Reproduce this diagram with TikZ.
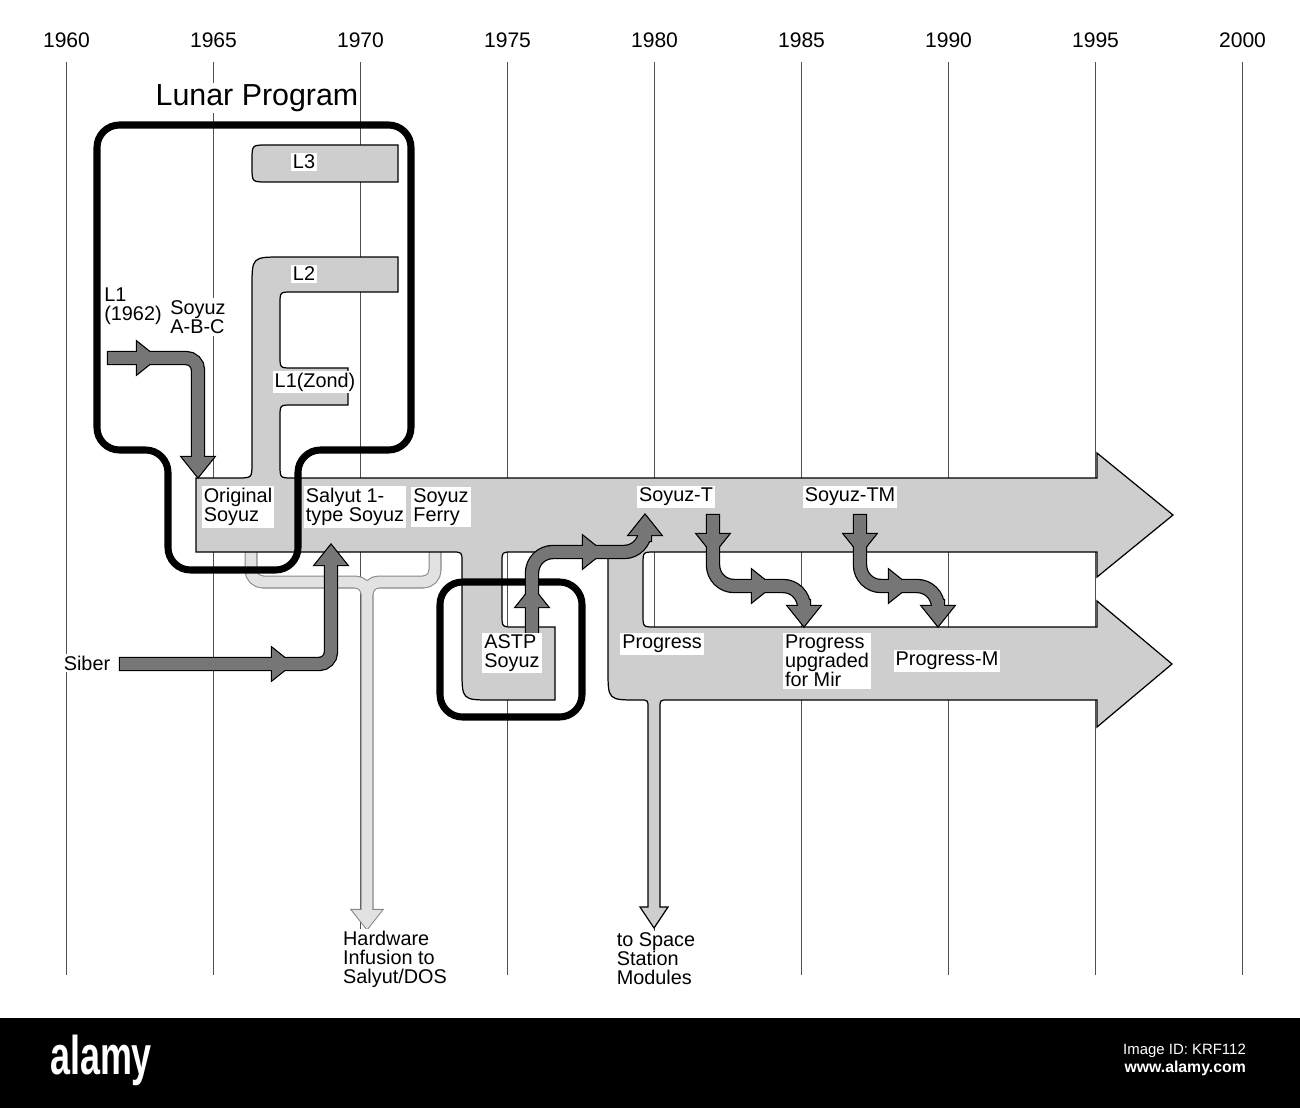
\documentclass[tikz,border=0pt]{standalone}
\usepackage{fontspec}
\setmainfont{Liberation Sans}

\definecolor{bandgray}{RGB}{206,206,206}
\definecolor{arrowgray}{RGB}{118,118,118}
\definecolor{feedgray}{RGB}{226,226,226}
\definecolor{feededge}{RGB}{135,135,135}
\definecolor{gridgray}{RGB}{80,80,80}

\tikzset{
  yearlabel/.style={font=\fontsize{12}{12}\selectfont, inner sep=1pt},
  tag/.style={fill=white, inner sep=0.04cm, align=left, font=\fontsize{11.3}{10.8}\selectfont},
  gridline/.style={draw=gridgray, line width=1.1pt},
  bandshape/.style={fill=bandgray, draw=black, line width=0.7pt},
  frame/.style={draw=black, line width=4pt, rounded corners=0.45cm},
  darkedge/.style={draw=black, line width=8.2pt, line cap=rect},
  darkbody/.style={draw=arrowgray, line width=6.8pt, line cap=rect},
  feedrim/.style={draw=feededge, line width=7.4pt},
  feedline/.style={draw=feedgray, line width=6.2pt},
}

\begin{document}
\begin{tikzpicture}[x=0.02cm, y=-0.02cm]
    \useasboundingbox (0,0) rectangle (1300,1108);

    % -------------------------------------------------------------
    % TIME AXIS
    % -------------------------------------------------------------
    \foreach \yr [count=\i from 0] in {1960,1965,...,2000} {
        \node[yearlabel] (yr\yr) at ({66.5+147*\i}, 40) {\yr};
        \draw[gridline] ({66.5+147*\i}, 62) -- ({66.5+147*\i}, 975);
    }

    % -------------------------------------------------------------
    % LIGHT FEED ARROWS (hardware infusion)
    % -------------------------------------------------------------
    \coordinate (feedA) at (251,545);
    \coordinate (feedB) at (435,545);
    \coordinate (feedjoin) at (367,582);
    \coordinate (feedlow) at (367,620);
    \coordinate (hwend) at (367,910);

    \filldraw[feededge, line width=1.2pt, shift={(hwend)}, rotate=-90] (0,-15) -- (19,0) -- (0,15) -- cycle;
    \draw[feedrim, rounded corners=0.24cm] (feedA) |- (feedjoin) -- (hwend) (feedB) |- (feedjoin) -- (feedlow);
    \draw[feedline, rounded corners=0.24cm] (feedA) |- (feedjoin) -- (hwend) (feedB) |- (feedjoin) -- (feedlow);
    \fill[feedgray, shift={(hwend)}, rotate=-90] (0,-15) -- (19,0) -- (0,15) -- cycle;

    % -------------------------------------------------------------
    % MAIN SOYUZ / PROGRESS BAND
    % -------------------------------------------------------------
    \filldraw[bandshape]
        (196,478) -- (237,478) .. controls (252,478) .. (252,463)
        -- (252,287) .. controls (252,257) .. (282,257)
        -- (398,257) -- (398,292)
        -- (292,292) .. controls (280,292) .. (280,304)
        -- (280,356) .. controls (280,368) .. (292,368)
        -- (348,368) -- (348,405)
        -- (292,405) .. controls (280,405) .. (280,417)
        -- (280,465) .. controls (280,478) .. (293,478)
        -- (1097,478) -- (1097,453) -- (1173,515) -- (1097,577) -- (1097,552)
        -- (655,552) .. controls (643,552) .. (643,564)
        -- (643,615) .. controls (643,627) .. (655,627)
        -- (1097,627) -- (1097,601) -- (1172,664) -- (1097,727) -- (1097,700)
        -- (668,700) .. controls (660,700) .. (660,708)
        -- (660,907) -- (668,907) -- (654,928) -- (640,907) -- (648,907)
        -- (648,708) .. controls (648,700) .. (640,700)
        -- (638,700) .. controls (608,700) .. (608,670)
        -- (608,562) .. controls (608,552) .. (598,552)
        -- (512,552) .. controls (502,552) .. (502,562)
        -- (502,615) .. controls (502,627) .. (514,627)
        -- (555,627) -- (555,700)
        -- (492,700) .. controls (462,700) .. (462,670)
        -- (462,562) .. controls (462,552) .. (452,552)
        -- (196,552) -- cycle;

    % L3 bar
    \filldraw[bandshape] (398,145) -- (267,145) .. controls (252,145) .. (252,160)
        -- (252,167) .. controls (252,182) .. (267,182) -- (398,182) -- cycle;

    % -------------------------------------------------------------
    % FRAMES
    % -------------------------------------------------------------
    \draw[frame] (97,125) -- (411,125) -- (411,450) -- (298,450) -- (298,570)
        -- (168,570) -- (168,450) -- (97,450) -- cycle;
    \draw[frame] (440,582) rectangle (582,717);

    % -------------------------------------------------------------
    % DARK ARROWS
    % -------------------------------------------------------------
    \coordinate (l1start) at (114,358);
    \coordinate (l1end) at (198,457);
    \coordinate (siberstart) at (126,664);
    \coordinate (siberend) at (331,565);
    \coordinate (astpout) at (532,633);
    \coordinate (astpbend) at (645,552);
    \coordinate (tin) at (645,535);
    \coordinate (tout) at (713,521);
    \coordinate (tbend) at (804,586);
    \coordinate (pupin) at (804,606);
    \coordinate (tmout) at (860,521);
    \coordinate (tmbend) at (938,586);
    \coordinate (pmin) at (938,606);

    \foreach \hx/\hy/\ha in {137/358/0, 198/457/-90, 272/664/0, 331/565/90,
                             532/607/90, 583/552/0, 645/535/90,
                             713/534/-90, 752/586/0, 804/606/-90,
                             860/534/-90, 889/586/0, 938/606/-90}
        \filldraw[black, line width=1.4pt, shift={(\hx,\hy)}, rotate=\ha] (0,-16) -- (20,0) -- (0,16) -- cycle;

    \draw[darkedge] [rounded corners=0.24cm] (l1start) -| (l1end) (siberstart) -| (siberend)
        [rounded corners=0.42cm] (astpout) |- (astpbend) -- (tin)
        (tout) |- (tbend) -- (pupin) (tmout) |- (tmbend) -- (pmin);
    \draw[darkbody] [rounded corners=0.24cm] (l1start) -| (l1end) (siberstart) -| (siberend)
        [rounded corners=0.42cm] (astpout) |- (astpbend) -- (tin)
        (tout) |- (tbend) -- (pupin) (tmout) |- (tmbend) -- (pmin);

    \foreach \hx/\hy/\ha in {137/358/0, 198/457/-90, 272/664/0, 331/565/90,
                             532/607/90, 583/552/0, 645/535/90,
                             713/534/-90, 752/586/0, 804/606/-90,
                             860/534/-90, 889/586/0, 938/606/-90}
        \fill[arrowgray, shift={(\hx,\hy)}, rotate=\ha] (0,-16) -- (20,0) -- (0,16) -- cycle;

    % -------------------------------------------------------------
    % LABELS
    % -------------------------------------------------------------
    \node[fill=white, inner sep=1pt, font=\fontsize{17.3}{17.3}\selectfont] (lunar) at (257,98) {Lunar Program};

    \node[tag] (lblLthree) at (304,162) {L3};
    \node[tag] (lblLtwo) at (304,274) {L2};
    \node[tag] (lblzond) at (315,382) {L1(Zond)};
    \node[tag] (lblLone) at (133,306) {L1\\(1962)};
    \node[tag] (lblabc) at (198,317) {Soyuz\\A-B-C};
    \node[tag] (lblorig) at (238,507) {Original\\Soyuz};
    \node[tag] (lblsalyut) at (355,507) {Salyut 1-\\type Soyuz};
    \node[tag] (lblferry) at (441,507) {Soyuz\\Ferry};
    \node[tag] (lblsoyuzt) at (676,497) {Soyuz-T};
    \node[tag] (lblsoyuztm) at (850,497) {Soyuz-TM};
    \node[tag] (lblastp) at (512,653) {ASTP\\Soyuz};
    \node[tag] (lblprogress) at (662,644) {Progress};
    \node[tag] (lblprogmir) at (827,661) {Progress\\upgraded\\for Mir};
    \node[tag] (lblprogm) at (947,661) {Progress-M};
    \node[tag] (lblsiber) at (87,663) {Siber};
    \node[tag] (lblhardware) at (395,959) {Hardware\\Infusion to\\Salyut/DOS};
    \node[tag] (lblstation) at (656,959) {to Space\\Station\\Modules};

    % -------------------------------------------------------------
    % BOTTOM STRIP
    % -------------------------------------------------------------
    \fill[black] (0,1018) rectangle (1300,1108);
    \node[text=white, font=\bfseries\fontsize{31}{31}\selectfont, xscale=0.66] (alamylogo) at (101,1060) {alamy};
    \node[text=white, font=\fontsize{8.5}{9}\selectfont, anchor=east] (imageid) at (1252,1051) {Image ID: KRF112};
    \node[text=white, font=\bfseries\fontsize{9}{9}\selectfont, anchor=east] (alamyurl) at (1252,1068) {www.alamy.com};

\end{tikzpicture}
\end{document}
